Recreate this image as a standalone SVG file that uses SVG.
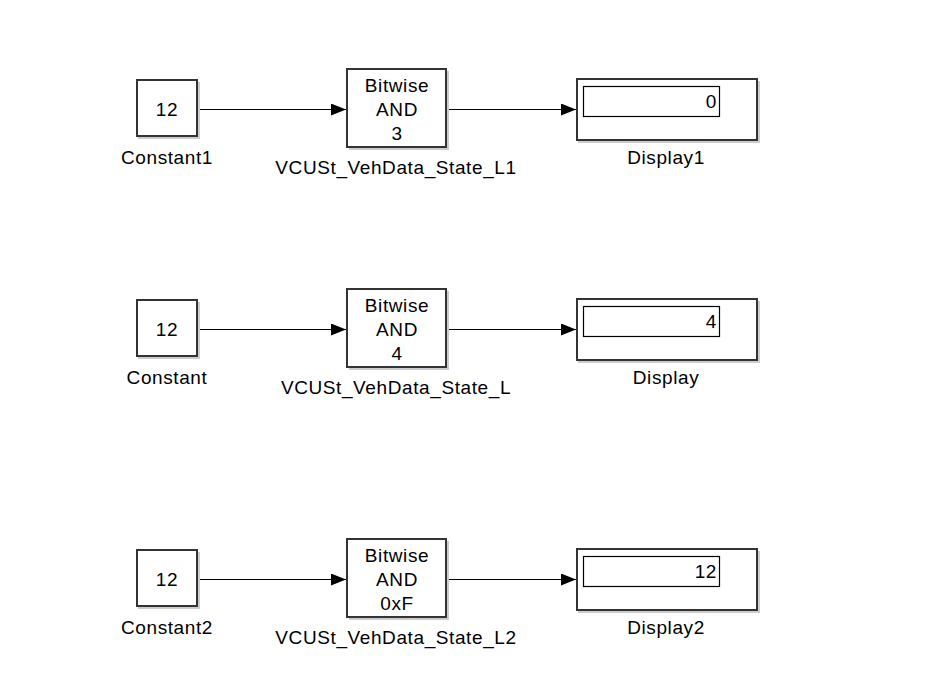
<svg xmlns="http://www.w3.org/2000/svg" width="936" height="687" viewBox="0 0 936 687">
<defs>
<style>
text{font-family:"Liberation Sans",Arial,sans-serif;font-size:19px;letter-spacing:0.6px;fill:#000}
.blk{fill:#fff;stroke:#333;stroke-width:2}
.shd{fill:none;stroke:#ccc;stroke-width:2}
.inner{fill:#fff;stroke:#000;stroke-width:1.2}
.wire{stroke:#000;stroke-width:1;fill:none}
.c{text-anchor:middle}
.r{text-anchor:end}
</style>
<marker id="arr" markerWidth="15" markerHeight="12" refX="15" refY="6" orient="auto" markerUnits="userSpaceOnUse">
<path d="M0,0 L15,6 L0,12 Z" fill="#000"/>
</marker>
</defs>
<rect width="936" height="687" fill="#fff"/>
<g id="connectors">
<line class="wire" x1="198" y1="109.5" x2="346" y2="109.5" marker-end="url(#arr)"/>
<line class="wire" x1="447" y1="109.5" x2="576" y2="109.5" marker-end="url(#arr)"/>
<line class="wire" x1="198" y1="329.5" x2="346" y2="329.5" marker-end="url(#arr)"/>
<line class="wire" x1="447" y1="329.5" x2="576" y2="329.5" marker-end="url(#arr)"/>
<line class="wire" x1="198" y1="579.5" x2="346" y2="579.5" marker-end="url(#arr)"/>
<line class="wire" x1="447" y1="579.5" x2="576" y2="579.5" marker-end="url(#arr)"/>
</g>
<g id="Constant1">
<path class="shd" d="M199,82 V138 H138"/>
<rect class="blk" x="137" y="80" width="60" height="56"/>
<text class="c" x="167" y="116">12</text>
<text class="c" x="167" y="164">Constant1</text>
</g>
<g id="Bitwise1">
<path class="shd" d="M448,71 V149 H349"/>
<rect class="blk" x="347" y="69" width="99" height="78"/>
<text class="c" x="397" y="92">Bitwise</text>
<text class="c" x="397" y="116">AND</text>
<text class="c" x="397" y="140">3</text>
<text class="c" x="396" y="174">VCUSt_VehData_State_L1</text>
</g>
<g id="Display1">
<path class="shd" d="M759,81 V142 H578"/>
<rect class="blk" x="577" y="79" width="180" height="61"/>
<rect class="inner" x="583.5" y="86.5" width="136" height="30"/>
<text class="r" x="717" y="108">0</text>
<text class="c" x="666" y="164">Display1</text>
</g>
<g id="Constant">
<path class="shd" d="M199,302 V358 H138"/>
<rect class="blk" x="137" y="300" width="60" height="56"/>
<text class="c" x="167" y="336">12</text>
<text class="c" x="167" y="384">Constant</text>
</g>
<g id="Bitwise">
<path class="shd" d="M448,291 V369 H349"/>
<rect class="blk" x="347" y="289" width="99" height="78"/>
<text class="c" x="397" y="312">Bitwise</text>
<text class="c" x="397" y="336">AND</text>
<text class="c" x="397" y="360">4</text>
<text class="c" x="396" y="394">VCUSt_VehData_State_L</text>
</g>
<g id="Display">
<path class="shd" d="M759,301 V362 H578"/>
<rect class="blk" x="577" y="299" width="180" height="61"/>
<rect class="inner" x="583.5" y="306.5" width="136" height="30"/>
<text class="r" x="717" y="328">4</text>
<text class="c" x="666" y="384">Display</text>
</g>
<g id="Constant2">
<path class="shd" d="M199,552 V608 H138"/>
<rect class="blk" x="137" y="550" width="60" height="56"/>
<text class="c" x="167" y="586">12</text>
<text class="c" x="167" y="634">Constant2</text>
</g>
<g id="Bitwise2">
<path class="shd" d="M448,541 V619 H349"/>
<rect class="blk" x="347" y="539" width="99" height="78"/>
<text class="c" x="397" y="562">Bitwise</text>
<text class="c" x="397" y="586">AND</text>
<text class="c" x="397" y="610">0xF</text>
<text class="c" x="396" y="644">VCUSt_VehData_State_L2</text>
</g>
<g id="Display2">
<path class="shd" d="M759,551 V612 H578"/>
<rect class="blk" x="577" y="549" width="180" height="61"/>
<rect class="inner" x="583.5" y="556.5" width="136" height="30"/>
<text class="r" x="717" y="578">12</text>
<text class="c" x="666" y="634">Display2</text>
</g>
</svg>
